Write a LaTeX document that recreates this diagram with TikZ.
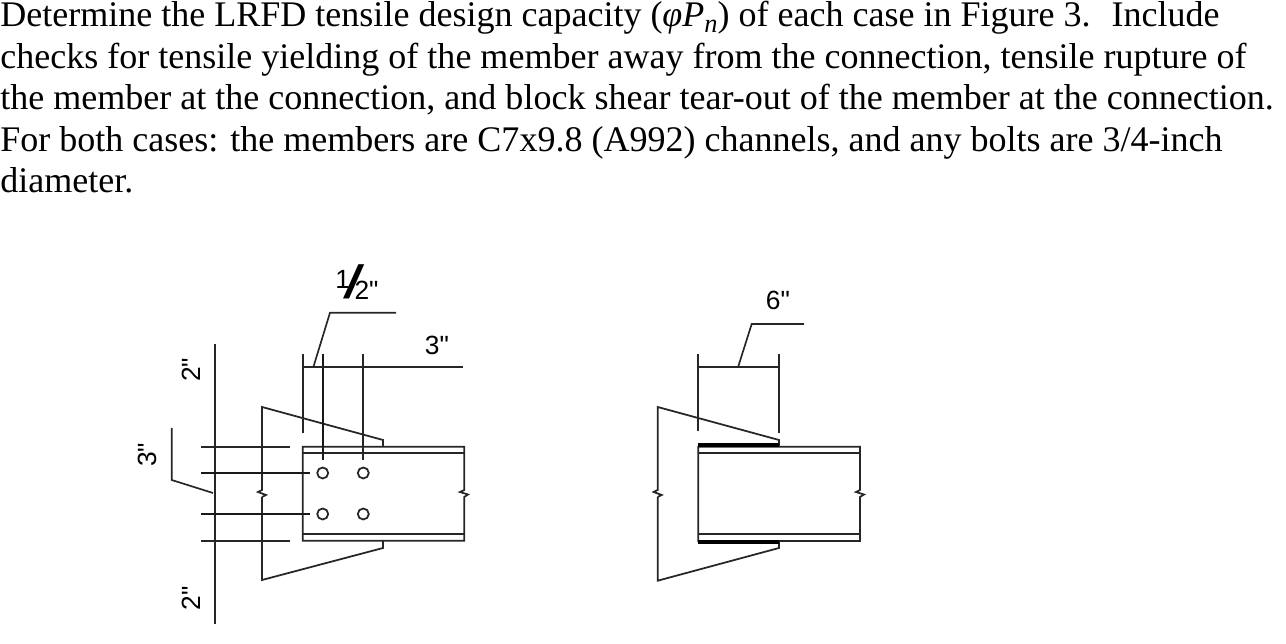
\documentclass[tikz,border=0pt]{standalone}
\usepackage{fontspec}
\setmainfont{Liberation Serif}
\newfontfamily\dimfont{Liberation Sans}
\tikzset{
  bodyline/.style={anchor=base west,inner sep=0pt,font=\fontsize{20.5}{24}\selectfont},
  dimlabel/.style={inner sep=0pt,font=\dimfont\fontsize{15}{18}\selectfont},
  member/.style={line width=1pt,black!85},
  dimline/.style={line width=.95pt,black!85},
  heavyline/.style={line width=1.3pt,black!90},
  weldline/.style={line width=2.6pt,black},
}
\begin{document}
\begin{tikzpicture}[x=.02cm,y=-.02cm]
  \useasboundingbox (0,0) rectangle (1286,644);
  % problem text
  \node[bodyline] (lineA) at (0,27) {Determine the LRFD tensile design capacity (\textit{φP}\raisebox{-3pt}{\fontsize{15}{15}\selectfont\itshape n}) of each case in Figure 3.~ Include};
  \node[bodyline] (lineB) at (0,68.5) {checks for tensile yielding of the member away from the connection, tensile rupture of};
  \node[bodyline] (lineC) at (0,110) {the member at the connection, and block shear tear-out of the member at the connection.};
  \node[bodyline] (lineD) at (0,152) {For both cases: the members are C7x9.8 (A992) channels, and any bolts are 3/4-inch};
  \node[bodyline] (lineE) at (0,193) {diameter.};
  % bolted case
  \draw[member] (262,497) -- (262,580) -- (383,548) -- (383,541);
  \draw[member] (383,447) -- (383,440) -- (262,407) -- (262,490) -- (258,492) -- (266,495) -- (262,497);
  \draw[member] (464.3,490) -- (464.3,446.7) -- (302.7,446.7) -- (302.7,540.7) -- (464.3,540.7) -- (464.3,497) -- (468,494.5) -- (460,492) -- cycle;
  \draw[member] (302.7,452.7) -- (464.3,452.7);
  \draw[member] (302.7,534) -- (464.3,534);
  \draw[member] (322.7,473) circle (5.5);
  \draw[member] (363.3,473) circle (5.5);
  \draw[member] (322.7,514) circle (5.5);
  \draw[member] (363.3,514) circle (5.5);
  \draw[dimline] (215,344) -- (215,624);
  \draw[dimline] (201,446.7) -- (290,446.7);
  \draw[heavyline] (201,473) -- (310,473);
  \draw[heavyline] (201,514) -- (310,514);
  \draw[dimline] (201,540.7) -- (290,540.7);
  \draw[dimline] (171.7,428) -- (171.7,480) -- (213,493);
  \draw[dimline] (302.7,354) -- (302.7,433);
  \draw[heavyline] (322.7,354) -- (322.7,460);
  \draw[dimline] (363.3,354) -- (363.3,460);
  \draw[dimline] (302.7,367.3) -- (463,367.3);
  \draw[dimline] (313.3,367.3) -- (330,312.7) -- (396,312.7);
  \node[dimlabel,anchor=base west] (holeDia) at (335,300) {\raisebox{6.8pt}{1}\kern-3.8pt\raisebox{1pt}{\scalebox{2.9}[1.77]{/}}\kern-5.7pt 2"};
  \node[dimlabel] (holePitch) at (437,345) {3"};
  \node[dimlabel,rotate=90] (edgeTop) at (191,370) {2"};
  \node[dimlabel,rotate=90] (gageMid) at (147,455) {3"};
  \node[dimlabel,rotate=90] (edgeBot) at (191,598) {2"};
  % welded case
  \draw[member] (657.7,497) -- (657.7,580.7) -- (779,548) -- (779,541);
  \draw[member] (779,447) -- (779,440) -- (657.7,407) -- (657.7,490) -- (653.7,492) -- (661.7,495) -- (657.7,497);
  \draw[member] (860,490) -- (860,446.7) -- (698.3,446.7) -- (698.3,541) -- (860,541) -- (860,497) -- (864,494.5) -- (856,492) -- cycle;
  \draw[member] (698.3,452.7) -- (860,452.7);
  \draw[member] (698.3,534) -- (860,534);
  \draw[weldline] (698.3,445) -- (779,445);
  \draw[weldline] (698.3,542) -- (779,542);
  \draw[dimline] (698.3,354) -- (698.3,431);
  \draw[dimline] (779,354) -- (779,433);
  \draw[dimline] (698.3,367.3) -- (779,367.3);
  \draw[dimline] (738,367.3) -- (751.7,324) -- (804,324);
  \node[dimlabel] (weldLen) at (778,300) {6"};
\end{tikzpicture}
\end{document}
